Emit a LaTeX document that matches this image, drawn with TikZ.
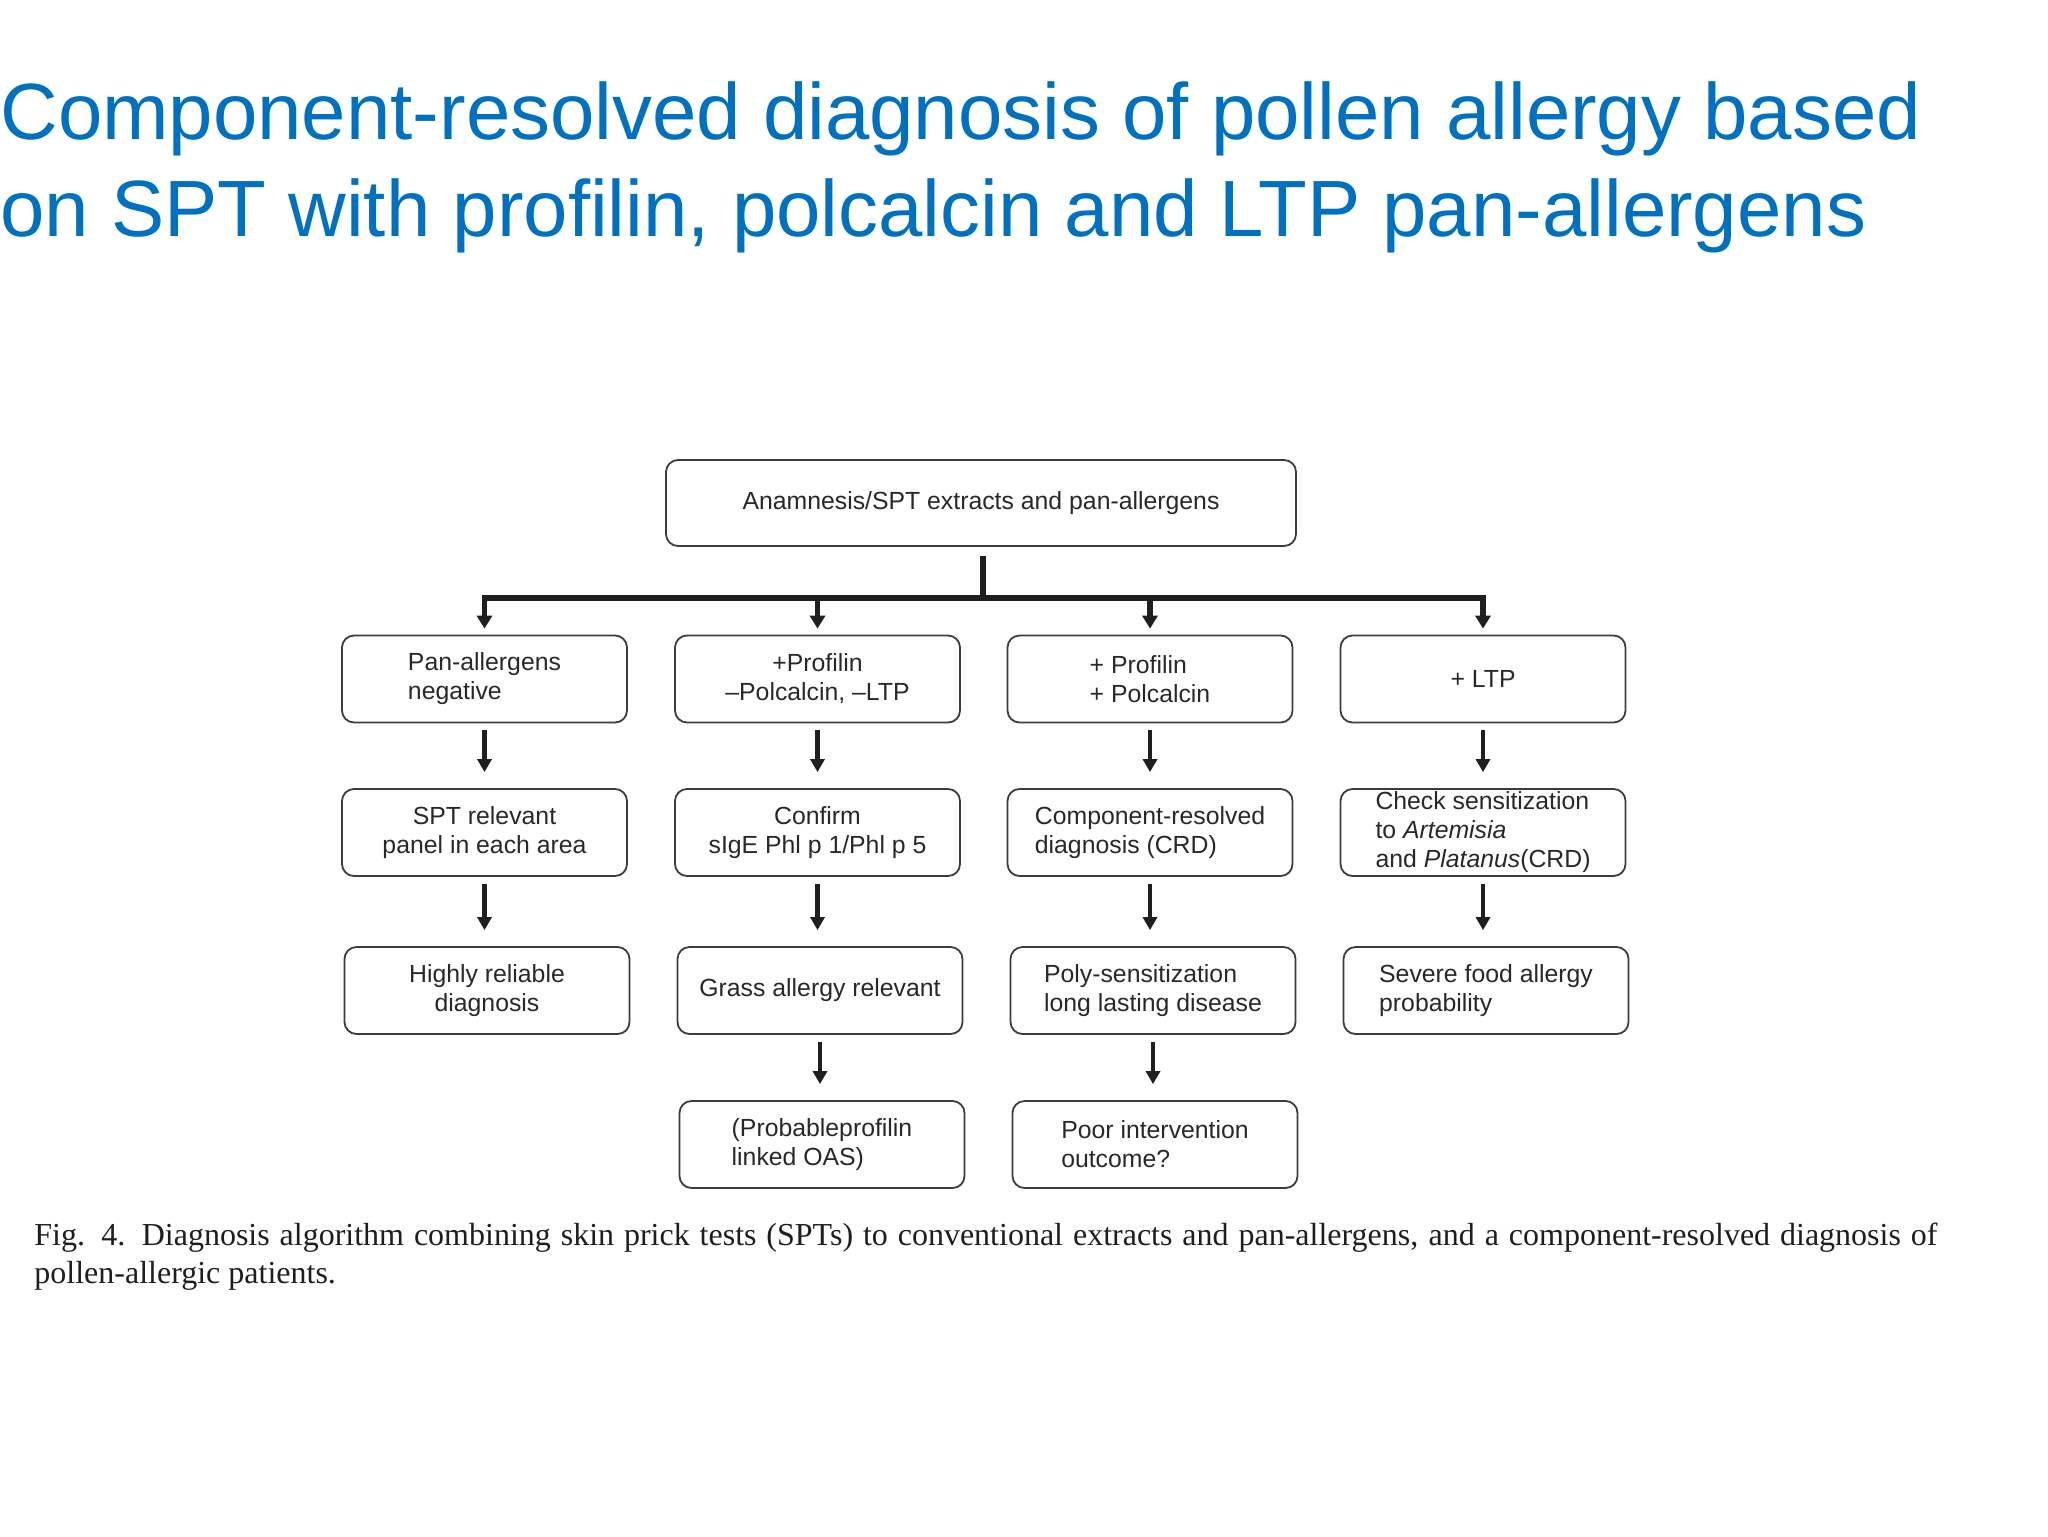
\documentclass[tikz,border=0pt]{standalone}
\usepackage{fontspec}
\setmainfont{Liberation Sans}
\newfontfamily\capfont{Liberation Serif}
\usetikzlibrary{arrows.meta}
\definecolor{titleblue}{RGB}{0,112,192}
\definecolor{boxtext}{RGB}{40,40,40}
\definecolor{boxline}{RGB}{60,60,60}
\definecolor{captext}{RGB}{30,30,30}
\begin{document}
\begin{tikzpicture}[x=0.5pt,y=-0.5pt,
  flowbox/.style={draw=boxline, line width=0.9pt, rounded corners=6pt,
    minimum width=142.5pt, minimum height=43.5pt, inner sep=0pt,
    font=\fontsize{12.4}{14.5}\selectfont, text=boxtext},
  lbox/.style={flowbox, align=left},
  cbox/.style={flowbox, align=center},
  thickline/.style={line width=2.8pt, draw=black!88},
  flowarrow/.style={thickline, -{Triangle[width=7.5pt,length=6.5pt]}},
  steparrow/.style={line width=2.4pt, draw=black!88, -{Triangle[width=7pt,length=6.5pt]},
    shorten <=3.3pt, shorten >=8pt},
  titletext/.style={anchor=base west, inner sep=0pt, text=titleblue,
    font=\fontsize{39.9}{47.5}\selectfont},
  captiontext/.style={anchor=base west, inner sep=0pt, text=captext,
    font=\capfont\fontsize{16}{19.5}\selectfont},
  ]
\useasboundingbox (0,0) rectangle (2048,1536);
% title
\node[titletext] (title1) at (0,140) {Component-resolved diagnosis of pollen allergy based};
\node[titletext] (title2) at (0,236) {on SPT with profilin, polcalcin and LTP pan-allergens};
% top box
\node[cbox, minimum width=315pt, minimum height=43pt] (top) at (981,503) {Anamnesis/SPT extracts and pan-allergens};
% row 1
\node[lbox] (r1c1) at (484.5,679) {Pan-allergens\\negative};
\node[cbox] (r1c2) at (817.5,679) {+Profilin\\–Polcalcin, –LTP};
\node[lbox] (r1c3) at (1150,679) {+ Profilin\\+ Polcalcin};
\node[cbox] (r1c4) at (1483,679) {+ LTP};
% row 2
\node[cbox] (r2c1) at (484.5,832.5) {SPT relevant\\panel in each area};
\node[cbox] (r2c2) at (817.5,832.5) {Confirm\\sIgE Phl p 1/Phl p 5};
\node[lbox] (r2c3) at (1150,832.5) {Component-resolved\\diagnosis (CRD)};
\node[lbox] (r2c4) at (1483,832.5) {Check sensitization\\to \textit{Artemisia}\\and \textit{Platanus}(CRD)};
% row 3
\node[cbox] (r3c1) at (487,990.5) {Highly reliable\\diagnosis};
\node[cbox] (r3c2) at (820,990.5) {Grass allergy relevant};
\node[lbox] (r3c3) at (1153,990.5) {Poly-sensitization\\long lasting disease};
\node[lbox] (r3c4) at (1486,990.5) {Severe food allergy\\probability};
% row 4
\node[lbox] (r4c2) at (822,1144.5) {(Probableprofilin\\linked OAS)};
\node[lbox] (r4c3) at (1155,1144.5) {Poor intervention\\outcome?};
% branching
\coordinate (bar) at (983,598);
\draw[thickline] ([yshift=-4.5pt]top.south -| bar) -- (bar);
\draw[thickline, line cap=rect] (r1c1.north |- bar) -- (r1c4.north |- bar);
\foreach \n in {r1c1,r1c2,r1c3,r1c4}
  \draw[flowarrow] (\n.north |- bar) -- ([yshift=3pt]\n.north);
% step arrows
\draw[steparrow] (r1c1.south) -- (r1c1.south |- r2c1.north);
\draw[steparrow] (r1c2.south) -- (r1c2.south |- r2c2.north);
\draw[steparrow] (r1c3.south) -- (r1c3.south |- r2c3.north);
\draw[steparrow] (r1c4.south) -- (r1c4.south |- r2c4.north);
\draw[steparrow] (r2c1.south) -- (r2c1.south |- r3c1.north);
\draw[steparrow] (r2c2.south) -- (r2c2.south |- r3c2.north);
\draw[steparrow] (r2c3.south) -- (r2c3.south |- r3c3.north);
\draw[steparrow] (r2c4.south) -- (r2c4.south |- r3c4.north);
\draw[steparrow] (r3c2.south) -- (r3c2.south |- r4c2.north);
\draw[steparrow] (r3c3.south) -- (r3c3.south |- r4c3.north);
% caption
\node[captiontext] (cap1) at (34,1245) {\makebox[951.5pt][s]{Fig. 4. Diagnosis algorithm combining skin prick tests (SPTs) to conventional extracts and pan-allergens, and a component-resolved diagnosis of}};
\node[captiontext] (cap2) at (34,1283) {pollen-allergic patients.};
\end{tikzpicture}
\end{document}
